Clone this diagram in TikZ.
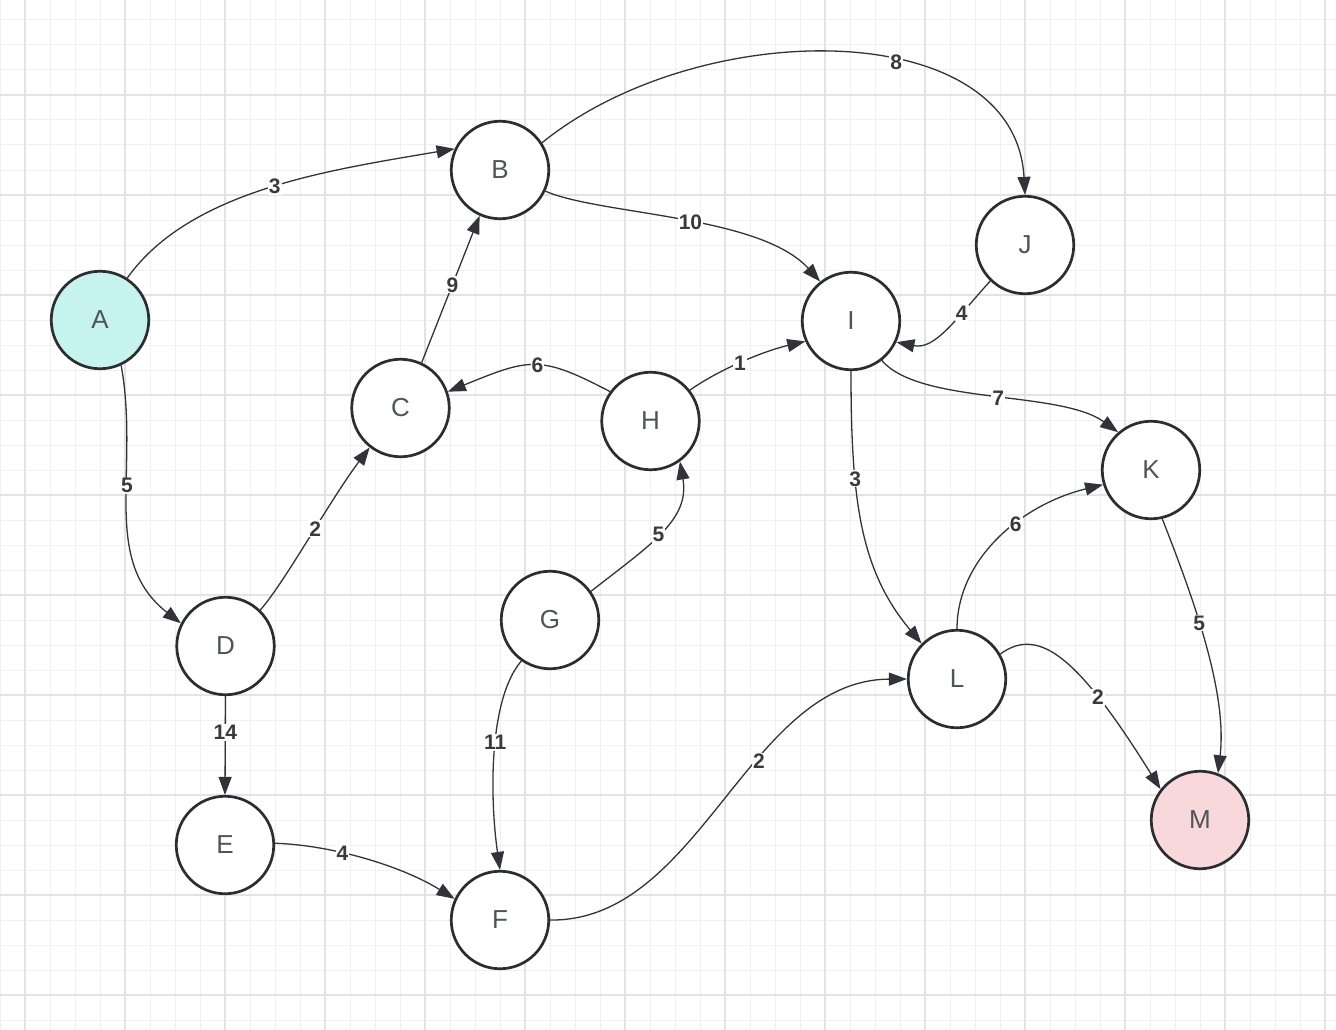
\documentclass[tikz,border=0pt]{standalone}
\usepackage{fontspec}
\setmainfont{Liberation Sans}
\usetikzlibrary{arrows.meta}
\definecolor{gridminor}{HTML}{F0F0F0}
\definecolor{gridmajor}{HTML}{E3E3E3}
\definecolor{nodeborder}{HTML}{2B2D33}
\definecolor{nodetext}{HTML}{50545A}
\definecolor{edgecol}{HTML}{30343A}
\definecolor{labeltext}{HTML}{3A3A3A}
\definecolor{startfill}{HTML}{C6F3ED}
\definecolor{endfill}{HTML}{F8D8DA}
\begin{document}
\begin{tikzpicture}[x=1pt,y=-1pt,
  vertex/.style={circle, draw=nodeborder, line width=2.7pt, minimum size=97.5pt,
    inner sep=0pt, fill=white, text=nodetext, font=\fontsize{26}{30}\selectfont},
  edge/.style={draw=edgecol, line width=1.3pt, -{Triangle[length=18pt,width=13pt]}},
  wt/.style={fill=white, text=labeltext, inner sep=1pt,
    font=\bfseries\fontsize{21}{23}\selectfont}]
\useasboundingbox (0,0) rectangle (1336,1030);
\fill[white] (0,0) rectangle (1336,1030);
% grid
\foreach \x in {0,25,...,1335} \draw[gridminor, line width=1pt] (\x,0) -- (\x,1030);
\foreach \y in {20,45,...,1029} \draw[gridminor, line width=1pt] (0,\y) -- (1336,\y);
\foreach \x in {25,125,...,1335} \draw[gridmajor, line width=1.1pt] (\x,0) -- (\x,1030);
\foreach \y in {95,195,...,1029} \draw[gridmajor, line width=1.1pt] (0,\y) -- (1336,\y);
% nodes
\node[vertex, fill=startfill] (A) at (100,320) {A};
\node[vertex] (B) at (500,170) {B};
\node[vertex] (C) at (400.5,408) {C};
\node[vertex] (D) at (225.5,646) {D};
\node[vertex] (E) at (225,845) {E};
\node[vertex] (F) at (500,920) {F};
\node[vertex] (G) at (550,620) {G};
\node[vertex] (H) at (650.5,421) {H};
\node[vertex] (I) at (851,321) {I};
\node[vertex] (J) at (1025,245) {J};
\node[vertex] (K) at (1151,470) {K};
\node[vertex] (L) at (957,679) {L};
\node[vertex, fill=endfill] (M) at (1200,820) {M};
% edges
\draw[edge] (A.57) .. controls (190,190) and (330,170) .. (B.155) node[wt,pos=0.52] {3};
\draw[edge] (A.295) .. controls (140,470) and (100,560) .. (D.153) node[wt,pos=0.41] {5};
\draw[edge] (D.46) .. controls (285,582) and (330,500) .. (C.232) node[wt,pos=0.55] {2};
\draw[edge] (C.65) -- (B.246) node[wt,pos=0.53] {9};
\draw[edge] (B.33) .. controls (700,15) and (1015,15) .. (J.north) node[wt,pos=0.6] {8};
\draw[edge] (B.335) .. controls (600,215) and (760,215) .. (I.128) node[wt,pos=0.53] {10};
\draw[edge] (H.144) .. controls (540,355) and (530,358) .. (C.19) node[wt,pos=0.47] {6};
\draw[edge] (H.38) .. controls (715,372) and (760,352) .. (I.204) node[wt,pos=0.5] {1};
\draw[edge] (J.226) .. controls (955,320) and (935,350) .. (I.335) node[wt,pos=0.3] {4};
\draw[edge] (I.308) .. controls (920,405) and (1060,390) .. (K.131) node[wt,pos=0.52] {7};
\draw[edge] (I.270) .. controls (851,500) and (860,570) .. (L.135) node[wt,pos=0.32] {3};
\draw[edge] (G.35) .. controls (650,545) and (690,520) .. (H.306) node[wt,pos=0.47] {5};
\draw[edge] (G.235) .. controls (488,700) and (490,800) .. (F.north) node[wt,pos=0.45] {11};
\draw[edge] (D.south) -- (E.north) node[wt,pos=0.37] {14};
\draw[edge] (E.2) .. controls (330,845) and (400,865) .. (F.155) node[wt,pos=0.38] {4};
\draw[edge] (F.east) .. controls (700,922) and (748,680) .. (L.west) node[wt,pos=0.61] {2};
\draw[edge] (L.north) .. controls (957,560) and (1020,505) .. (K.197) node[wt,pos=0.6] {6};
\draw[edge] (L.30) .. controls (1040,625) and (1080,660) .. (M.142) node[wt,pos=0.7] {2};
\draw[edge] (K.283) .. controls (1190,590) and (1228,690) .. (M.69) node[wt,pos=0.43] {5};
\end{tikzpicture}
\end{document}
